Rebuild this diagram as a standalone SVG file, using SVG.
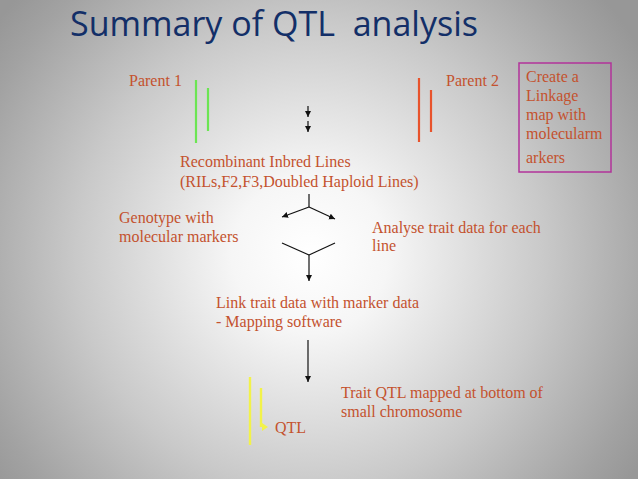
<svg xmlns="http://www.w3.org/2000/svg" width="638" height="479" viewBox="0 0 638 479">
  <defs>
    <radialGradient id="bg" gradientUnits="userSpaceOnUse" cx="310" cy="255" r="390">
      <stop offset="0" stop-color="#ffffff"/>
      <stop offset="0.2" stop-color="#f6f6f6"/>
      <stop offset="0.6" stop-color="#c9c9c9"/>
      <stop offset="0.9" stop-color="#a2a2a2"/>
      <stop offset="1" stop-color="#979797"/>
    </radialGradient>
    <marker id="arr" markerUnits="userSpaceOnUse" markerWidth="7" markerHeight="7" refX="6" refY="3.5" orient="auto">
      <path d="M0,0.5 L6,3.5 L0,6.5 Z" fill="#111"/>
    </marker>
    <style>
      .lbl { font-family: "Liberation Serif", "Times New Roman", serif; font-size: 16px; fill: #c4522e; }
      .title { font-family: "Open Sans", "Noto Sans", sans-serif; font-size: 35px; fill: #132f68; white-space: pre; }
      .conn { stroke: #111; stroke-width: 1.2; fill: none; }
      .green { stroke: #6ce553; stroke-width: 2.2; }
      .red { stroke: #e8532c; stroke-width: 2.2; }
      .yellow { stroke: #f2f24a; stroke-width: 2.4; }
    </style>
  </defs>
  <rect x="0" y="0" width="638" height="479" fill="url(#bg)"/>

  <g id="title">
    <text class="title" x="70" y="36" textLength="408" lengthAdjust="spacingAndGlyphs" xml:space="preserve">Summary of QTL  analysis</text>
  </g>

  <g id="parent1">
    <text class="lbl" x="129" y="86">Parent 1</text>
    <line class="green" x1="196" y1="80" x2="196" y2="143"/>
    <line class="green" x1="208" y1="88" x2="208" y2="131"/>
  </g>

  <g id="parent2">
    <text class="lbl" x="446" y="86">Parent 2</text>
    <line class="red" x1="419" y1="78" x2="419" y2="142"/>
    <line class="red" x1="431" y1="90" x2="431" y2="132"/>
  </g>

  <g id="linkage-map">
    <rect x="519" y="63" width="92" height="109" fill="none" stroke="#b2339a" stroke-width="1.5"/>
    <text class="lbl" x="526" y="82">Create a</text>
    <text class="lbl" x="526" y="101">Linkage</text>
    <text class="lbl" x="526" y="120">map with</text>
    <text class="lbl" x="526" y="139">molecularm</text>
    <text class="lbl" x="526" y="163">arkers</text>
  </g>

  <g id="ril">
    <text class="lbl" x="180" y="167">Recombinant Inbred Lines</text>
    <text class="lbl" x="180" y="187">(RILs,F2,F3,Doubled Haploid Lines)</text>
  </g>

  <g id="genotype">
    <text class="lbl" x="119" y="223">Genotype with</text>
    <text class="lbl" x="119" y="242">molecular markers</text>
  </g>

  <g id="analyse">
    <text class="lbl" x="372" y="233">Analyse trait data for each</text>
    <text class="lbl" x="372" y="251">line</text>
  </g>

  <g id="link">
    <text class="lbl" x="216" y="308">Link trait data with marker data</text>
    <text class="lbl" x="216" y="327">- Mapping software</text>
  </g>

  <g id="trait">
    <text class="lbl" x="341" y="398">Trait QTL mapped at bottom of</text>
    <text class="lbl" x="341" y="417">small chromosome</text>
  </g>

  <g id="qtl">
    <line class="yellow" x1="250" y1="377" x2="250" y2="445"/>
    <line class="yellow" x1="261" y1="388" x2="261" y2="427"/>
    <path d="M262,423 L268,427 L262,431 Z" fill="#f2f24a"/>
    <text class="lbl" x="275" y="433">QTL</text>
  </g>

  <g id="connectors">
    <line class="conn" x1="308" y1="106" x2="308" y2="117" marker-end="url(#arr)"/>
    <line class="conn" x1="308" y1="121" x2="308" y2="132" marker-end="url(#arr)"/>
    <line class="conn" x1="309" y1="194" x2="309" y2="207"/>
    <line class="conn" x1="309" y1="207" x2="282" y2="217" marker-end="url(#arr)"/>
    <line class="conn" x1="309" y1="207" x2="335" y2="219" marker-end="url(#arr)"/>
    <line class="conn" x1="282" y1="243" x2="309" y2="255"/>
    <line class="conn" x1="335" y1="243" x2="309" y2="255"/>
    <line class="conn" x1="309" y1="255" x2="309" y2="281" marker-end="url(#arr)"/>
    <line class="conn" x1="308" y1="340" x2="308" y2="382" stroke="#333" marker-end="url(#arr)"/>
  </g>
</svg>
